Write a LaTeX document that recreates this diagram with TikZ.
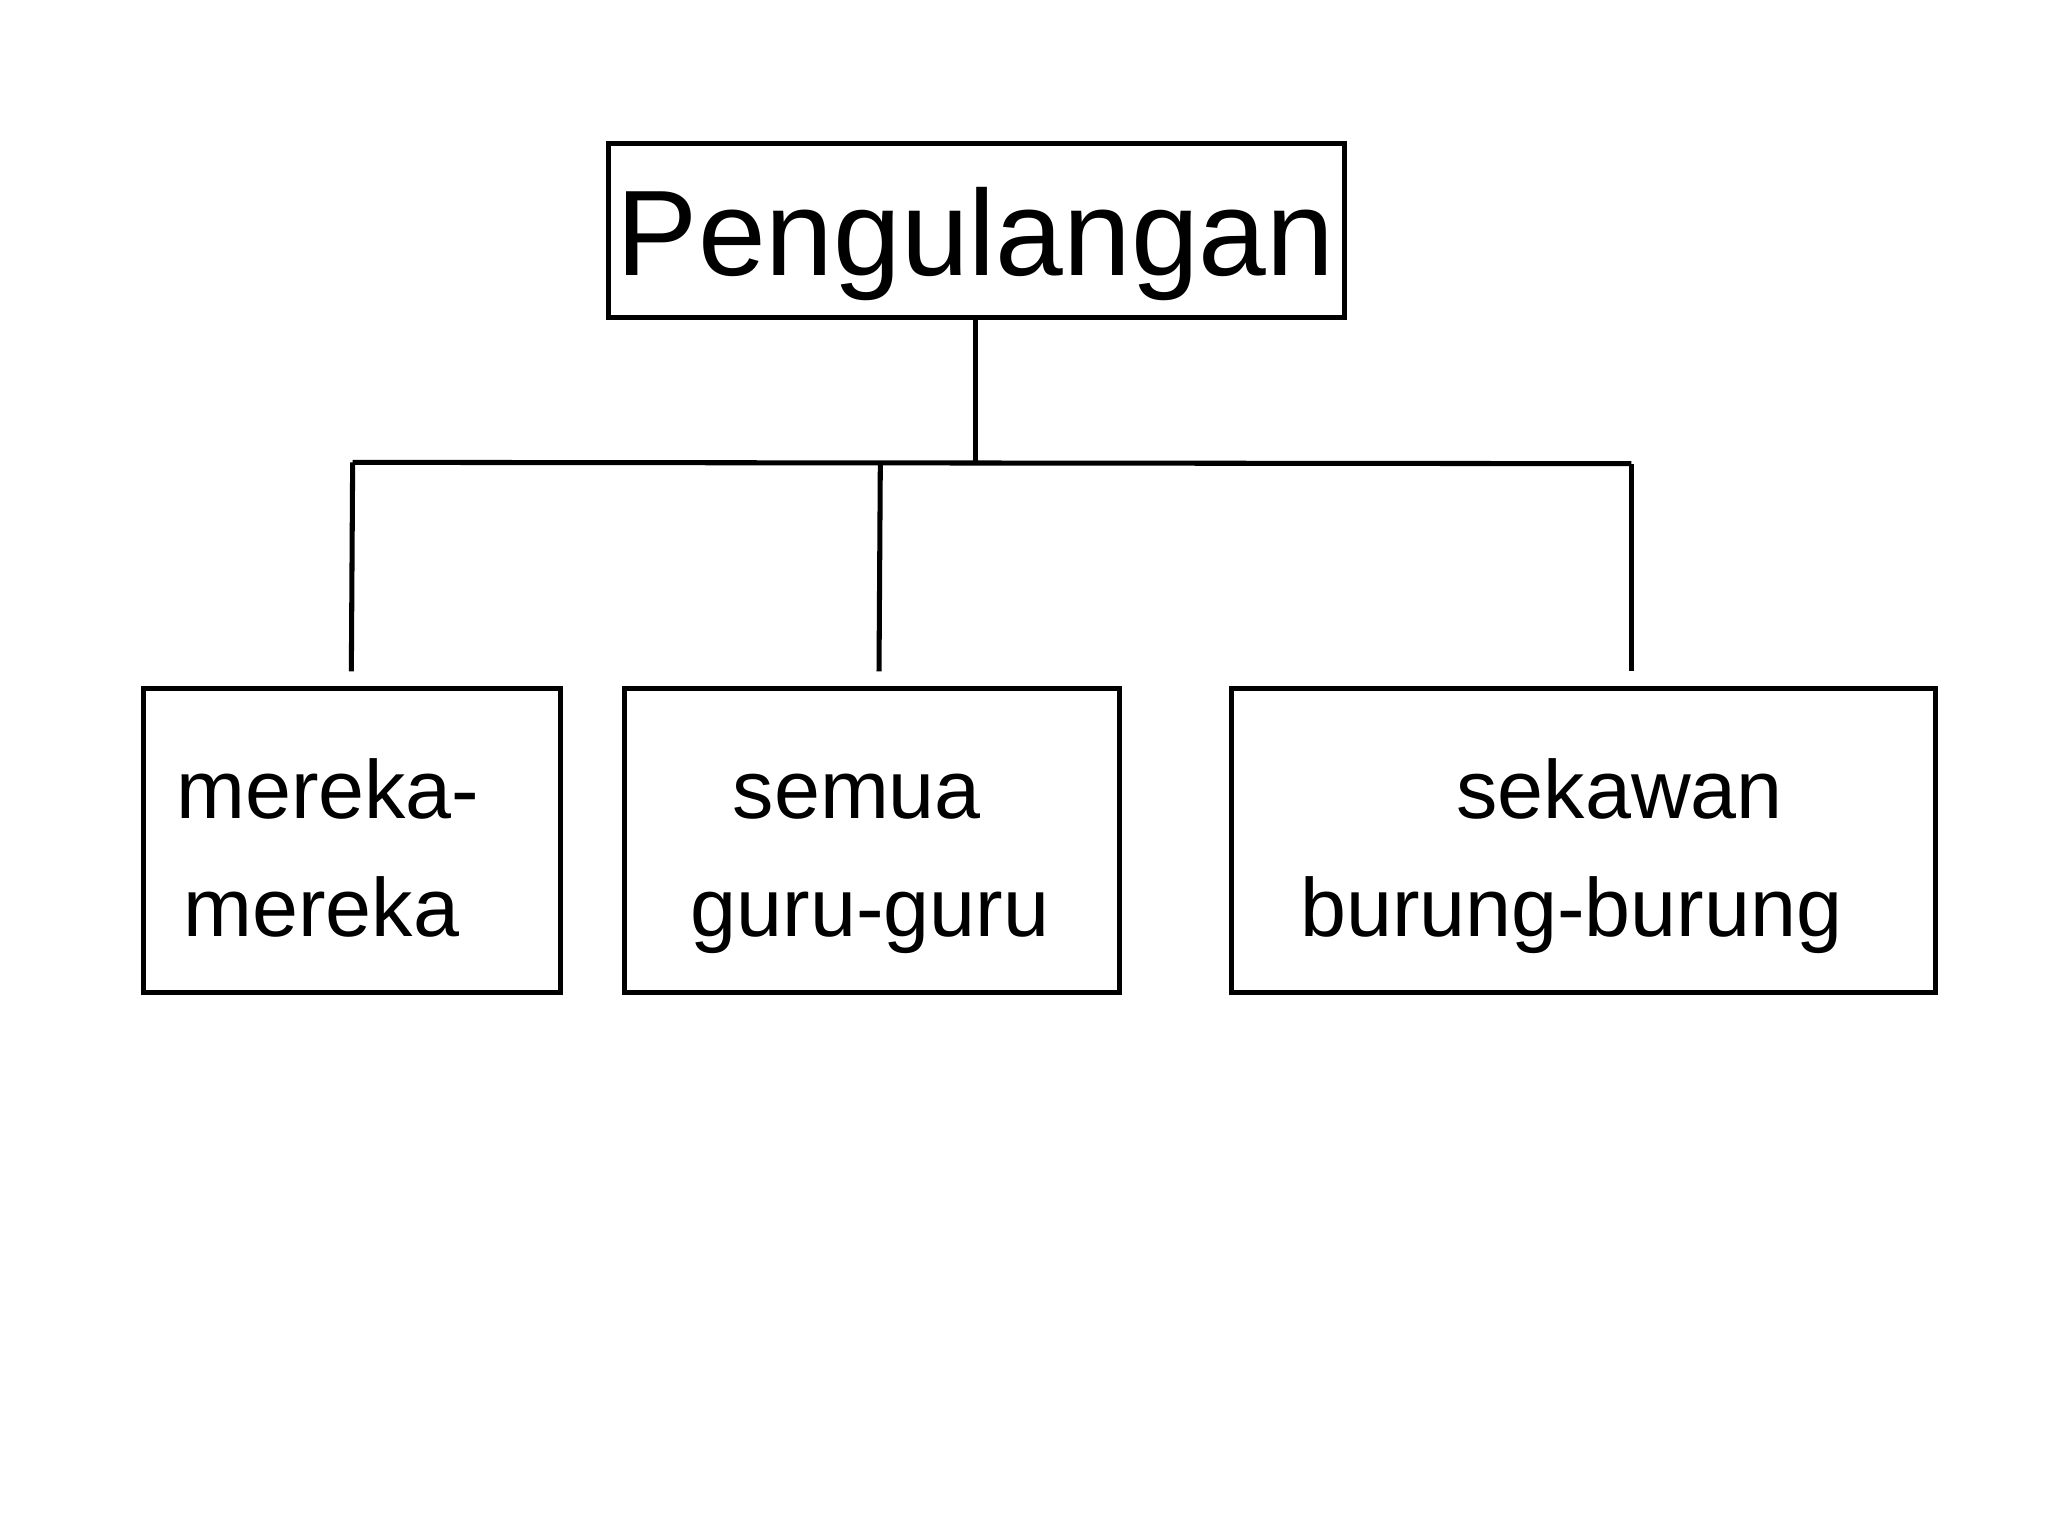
\documentclass[tikz,border=0pt]{standalone}
\usepackage{fontspec}
\setmainfont{Liberation Sans}
\begin{document}
\begin{tikzpicture}[x=0.01cm,y=-0.01cm,line width=1.1pt,
  box/.style={draw,rectangle,inner sep=0pt},
  lbl/.style={anchor=base,inner sep=0pt,font=\fontsize{18}{22}\selectfont}]
\useasboundingbox (0,0) rectangle (1568,1176);
\node[box,minimum width=5.63cm,minimum height=1.33cm] (top) at (747.5,176.5) {};
\node[anchor=base,inner sep=0pt,font=\fontsize{26.5}{30}\selectfont] (t) at (747,211) {Pengulangan};
\node[box,minimum width=3.19cm,minimum height=2.33cm] (b1) at (269.5,643.5) {};
\node[box,minimum width=3.79cm,minimum height=2.33cm] (b2) at (667.5,643.5) {};
\node[box,minimum width=5.39cm,minimum height=2.33cm] (b3) at (1212.5,643.5) {};
\node[lbl] (l1a) at (251,627) {mereka-};
\node[lbl] (l1b) at (246,717) {mereka};
\node[lbl] (l2a) at (656,627) {semua};
\node[lbl] (l2b) at (666,717) {guru-guru};
\node[lbl] (l3a) at (1240,627) {sekawan};
\node[lbl] (l3b) at (1203,717) {burung-burung};
\coordinate (j) at (747,354);
\coordinate (hl) at (270,354);
\coordinate (hr) at (1249,355);
\coordinate (m) at (674,355);
\coordinate (e1) at (269,514);
\coordinate (e2) at (673,514);
\coordinate (e3) at (1249,514);
\draw (top.south -| j) -- (j);
\draw (hl) -- (hr);
\draw (hl) -- (e1);
\draw (m) -- (e2);
\draw (hr) -- (e3);
\end{tikzpicture}
\end{document}
